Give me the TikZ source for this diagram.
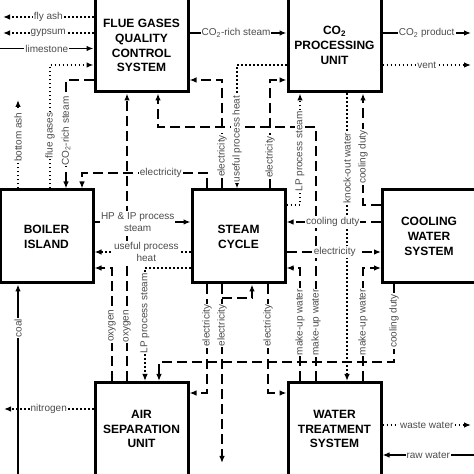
\documentclass[tikz,border=0pt]{standalone}
\usepackage{fontspec}
\setmainfont{Liberation Sans}
\usetikzlibrary{positioning}
\usetikzlibrary{arrows.meta}

\begin{document}
\begin{tikzpicture}[x=1pt, y=1pt,
  >={Latex[length=7pt,width=5.5pt]},
  box/.style = {draw,line width=3pt,fill=white,minimum width=93pt,minimum height=93pt,
        inner sep=0pt,align=center,font=\bfseries\fontsize{12}{14.8}\selectfont},
  lbl/.style = {fill=white,inner sep=1pt,text=gray!60!black,align=center,
        font=\fontsize{10}{12}\selectfont},
  vlbl/.style = {lbl,rotate=90},
  solidline/.style = {line width=1.3pt,->},
  dashline/.style = {solidline,dash pattern=on 10pt off 5pt},
  dotline/.style = {solidline,dash pattern=on 1.3pt off 2.7pt}
]
\useasboundingbox (0,0) rectangle (474,474);
 \node[box] (steam) at (238.5,237.5) {STEAM\\CYCLE};
 \node[box, left=96pt of steam] (boiler) {BOILER\\ISLAND};
 \node[box, right=94.5pt of steam] (cws) {COOLING\\WATER\\SYSTEM};
 \node[box, above left=95pt and 1pt of steam] (fgqc) {FLUE GASES\\QUALITY\\CONTROL\\SYSTEM};
 \node[box, above right=95pt and 0pt of steam] (cpu) {CO\textsubscript{2}\\PROCESSING\\UNIT};
 \node[box, below left=96.5pt and 1pt of steam] (asu) {AIR\\SEPARATION\\UNIT};
 \node[box, below right=96.5pt and 0pt of steam] (wts) {WATER\\TREATMENT\\SYSTEM};
 % corners and free ends
 \coordinate (flyash) at (3,457);
 \coordinate (gypsum) at (3,441);
 \coordinate (lime) at (0,425.5);
 \coordinate (flue) at (50,409);
 \coordinate (rich) at (66,394);
 \coordinate (ash) at (18,374);
 \coordinate (elB1) at (207,301);
 \coordinate (elB2) at (82,301);
 \coordinate (oxF) at (127,0);
 \coordinate (oxB) at (112,206);
 \coordinate (hpip) at (0,252);
 \coordinate (heat) at (0,222);
 \coordinate (lpA) at (145,206);
 \coordinate (mwF1) at (316,347);
 \coordinate (mwF2) at (158,347);
 \coordinate (elF) at (222,394);
 \coordinate (heatC) at (237,409);
 \coordinate (elC) at (270,394);
 \coordinate (lpC) at (300,269);
 \coordinate (rsC) at (0,441);
 \coordinate (prod) at (471,441);
 \coordinate (vent) at (471,409);
 \coordinate (ko) at (347,0);
 \coordinate (cdC) at (363,269);
 \coordinate (mwS) at (300,206);
 \coordinate (mwC) at (363,206);
 \coordinate (cdA1) at (394,112);
 \coordinate (cdA2) at (159,112);
 \coordinate (elA) at (207,81);
 \coordinate (export) at (222,11);
 \coordinate (loop1) at (222,176);
 \coordinate (loop2) at (252,176);
 \coordinate (elW) at (268,81);
 \coordinate (coal) at (18,0);
 \coordinate (nitro) at (4,65);
 \coordinate (waste) at (471,49);
 \coordinate (raw) at (474,19);
 % flue gases quality control
 \draw[dotline] (fgqc.west |- flyash) -- node[lbl]{fly ash} (flyash);
 \draw[dotline] (fgqc.west |- gypsum) -- node[lbl]{gypsum} (gypsum);
 \draw[solidline] (lime) -- node[lbl]{limestone} (lime -| fgqc.west);
 \draw[dotline] (boiler.north -| flue) -- node[vlbl,pos=.43]{flue gases} (flue) -- (flue -| fgqc.west);
 \draw[dashline] (rich -| fgqc.west) -- (rich) -- node[vlbl,pos=.47]{CO\textsubscript{2}-rich steam} (boiler.north -| rich);
 \draw[dotline] (boiler.north -| ash) -- node[vlbl,pos=.58]{bottom ash} (ash);
 \draw[dashline] (steam.north -| elB1) -- (elB1) -- node[lbl,pos=.37]{electricity} (elB2) -- (boiler.north -| elB2);
 \draw[dashline] (asu.north -| oxF) -- node[vlbl,pos=.19]{oxygen} (fgqc.south -| oxF);
 \draw[dashline] (asu.north -| oxB) -- node[vlbl,pos=.49]{oxygen} (oxB) -- (oxB -| boiler.east);
 \draw[solidline] (boiler.east |- hpip) -- node[lbl,pos=.45]{HP \& IP process\\steam} (steam.west |- hpip);
 \draw[dotline] (steam.west |- heat) -- node[lbl,pos=.46]{useful process\\heat} (boiler.east |- heat);
 \draw[dotline] (steam.west |- lpA) -- (lpA) -- node[vlbl,pos=.4]{LP process steam} (asu.north -| lpA);
 \draw[dashline] (wts.north -| mwF1) -- node[vlbl,pos=.23]{make-up water} (mwF1) -- (mwF2) -- (fgqc.south -| mwF2);
 \draw[dashline] (steam.north -| elF) -- node[vlbl,pos=.3]{electricity} (elF) -- (elF -| fgqc.east);
 % CO2 processing
 \draw[dotline] (heatC -| cpu.west) -- (heatC) -- node[vlbl,pos=.6]{useful process heat} (steam.north -| heatC);
 \draw[dashline] (steam.north -| elC) -- node[vlbl,pos=.29]{electricity} (elC) -- (elC -| cpu.west);
 \draw[dotline] (steam.east |- lpC) -- (lpC) -- node[vlbl,pos=.48]{LP process steam} (cpu.south -| lpC);
 \draw[solidline] (fgqc.east |- rsC) -- node[lbl,pos=.48]{CO\textsubscript{2}-rich steam} (cpu.west |- rsC);
 \draw[solidline] (cpu.east |- prod) -- node[lbl]{CO\textsubscript{2} product} (prod);
 \draw[dotline] (cpu.east |- vent) -- node[lbl]{vent} (vent);
 \draw[dotline] (cpu.south -| ko) -- node[vlbl,pos=.26]{knock-out water} (wts.north -| ko);
 % cooling water
 \draw[dashline] (cws.west |- cdC) -- (cdC) -- node[vlbl,pos=.43]{cooling duty} (cpu.south -| cdC);
 \draw[dashline] (cws.west |- hpip) -- node[lbl,pos=.51]{cooling duty} (steam.east |- hpip);
 \draw[dashline] (steam.east |- heat) -- node[lbl,pos=.51]{electricity} (cws.west |- heat);
 \draw[dashline] (wts.north -| mwS) -- node[vlbl,pos=.52]{make-up water} (mwS) -- (mwS -| steam.east);
 \draw[dashline] (wts.north -| mwC) -- node[vlbl,pos=.52]{make-up water} (mwC) -- (mwC -| cws.west);
 \draw[dashline] (cws.south -| cdA1) -- node[vlbl,pos=.47]{cooling duty} (cdA1) -- (cdA2) -- (asu.north -| cdA2);
 % electricity below the steam cycle
 \draw[dashline] (steam.south -| elA) -- node[vlbl,pos=.38]{electricity} (elA) -- (elA -| asu.east);
 \draw[dashline] (steam.south -| export) -- node[vlbl,pos=.23]{electricity} (export);
 \draw[dashline] (loop1) -- (loop2) -- (steam.south -| loop2);
 \draw[dashline] (steam.south -| elW) -- node[vlbl,pos=.38]{electricity} (elW) -- (elW -| wts.west);
 % bottom row
 \draw[solidline] (coal) -- node[vlbl,pos=.77]{coal} (boiler.south -| coal);
 \draw[dotline] (asu.west |- nitro) -- node[lbl]{nitrogen} (nitro);
 \draw[dotline] (wts.east |- waste) -- node[lbl]{waste water} (waste);
 \draw[solidline] (raw) -- node[lbl]{raw water} (raw -| wts.east);
\end{tikzpicture}
\end{document}
